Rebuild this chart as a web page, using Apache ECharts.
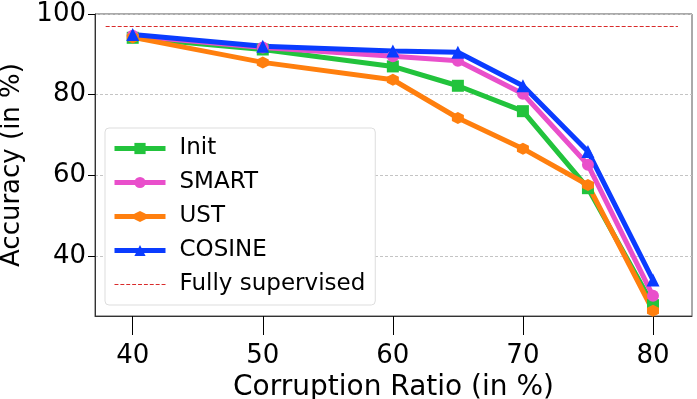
<!DOCTYPE html>
<html>
<head>
<meta charset="utf-8">
<script src="https://cdn.jsdelivr.net/npm/echarts@6/dist/echarts.min.js"></script>
<style>
  html, body { margin: 0; padding: 0; background: #fff; }
  #main { width: 697px; height: 399px; }
</style>
</head>
<body>
<div id="main"></div>
<script>
var ratios = [40, 50, 60, 65, 70, 75, 80];
var initAcc   = [94.1, 91.2, 87.0, 82.2, 75.9, 56.8, 27.8];
var smartAcc  = [94.6, 91.7, 89.5, 88.4, 80.2, 62.6, 30.1];
var ustAcc    = [94.2, 88.0, 83.7, 74.2, 66.6, 57.6, 26.4];
var cosineAcc = [94.9, 92.0, 90.8, 90.5, 82.2, 65.9, 34.0];
var fullySupervised = 96.9;
var xTicks = [40, 50, 60, 70, 80];
var yTicks = [40, 60, 80, 100];

var myChart = echarts.init(document.getElementById('main'));
var font = 'DejaVu Sans';
var red = '#d92b2b';
var hexagon = 'path://M0,-1 L0.866,-0.5 L0.866,0.5 L0,1 L-0.866,0.5 L-0.866,-0.5 Z';
// dashed legend icon for the reference line
var dashIcon = 'path://M0,0h4v1.2h-4z M6,0h4v1.2h-4z M12,0h4v1.2h-4z M18,0h4v1.2h-4z M24,0h4v1.2h-4z'
  + ' M30,0h4v1.2h-4z M36,0h4v1.2h-4z M42,0h4v1.2h-4z M48,0h4v1.2h-4z';

function pairs(ys) {
  return ratios.map(function (x, i) { return [x, ys[i]]; });
}

function lineSeries(name, ys, color, symbol, size) {
  return {
    name: name,
    type: 'line',
    data: pairs(ys),
    symbol: symbol,
    symbolSize: size,
    lineStyle: { color: color, width: 5 },
    itemStyle: { color: color },
    emphasis: { disabled: true }
  };
}

var option = {
  animation: false,
  grid: {
    left: 95, right: 5, top: 14, bottom: 83,
    outerBoundsMode: 'none',
    show: true, borderColor: '#555', borderWidth: 1
  },
  xAxis: {
    type: 'value',
    min: 37.1,
    max: 83,
    name: 'Corruption Ratio (in %)',
    nameLocation: 'middle',
    nameGap: 52,
    nameTextStyle: { fontFamily: font, fontSize: 28, color: '#000' },
    axisLine: { show: true, lineStyle: { color: '#333', width: 1 } },
    axisTick: { show: true, customValues: xTicks, length: 19, lineStyle: { color: '#000' } },
    axisLabel: { customValues: xTicks, fontFamily: font, fontSize: 26, color: '#000', margin: 27 },
    splitLine: { show: false }
  },
  yAxis: {
    type: 'value',
    min: 25.1,
    max: 100,
    name: 'Accuracy (in %)',
    nameLocation: 'middle',
    nameGap: 55,
    nameTextStyle: { fontFamily: font, fontSize: 26, color: '#000' },
    axisLine: { show: true, lineStyle: { color: '#333', width: 1 } },
    axisTick: { show: true, customValues: yTicks, length: 7, lineStyle: { color: '#000' } },
    axisLabel: { customValues: yTicks, fontFamily: font, fontSize: 26, color: '#000', margin: 9 },
    splitLine: { show: true, lineStyle: { color: '#c4c4c4', type: [3, 2], width: 1 } }
  },
  legend: {
    orient: 'vertical',
    left: 105,
    top: 128,
    itemWidth: 51,
    itemHeight: 14,
    itemGap: 11,
    padding: [9, 10, 9, 7],
    backgroundColor: '#fff',
    borderColor: '#ddd',
    borderWidth: 1,
    borderRadius: 4,
    lineStyle: { width: 'inherit' },
    textStyle: { fontFamily: font, fontSize: 23, color: '#000', padding: [0, 0, 0, 9] },
    data: ['Init', 'SMART', 'UST', 'COSINE',
      { name: 'Fully supervised', icon: dashIcon, itemStyle: { color: red, borderWidth: 0 } }]
  },
  series: [
    lineSeries('Init', initAcc, '#22c33c', 'rect', 12),
    lineSeries('SMART', smartAcc, '#e94fcb', 'circle', 12),
    lineSeries('UST', ustAcc, '#ff7f0e', hexagon, 12),
    lineSeries('COSINE', cosineAcc, '#0a3cff', 'triangle', 13),
    {
      name: 'Fully supervised',
      type: 'line',
      data: [],
      symbol: 'none',
      lineStyle: { color: red, width: 1.2, type: [4, 2] },
      itemStyle: { color: red },
      markLine: {
        silent: true,
        symbol: 'none',
        label: { show: false },
        lineStyle: { color: red, width: 1.2, type: [4, 2] },
        data: [[{ coord: [37.92, fullySupervised] }, { coord: [81.92, fullySupervised] }]]
      }
    }
  ]
};

myChart.setOption(option);
</script>
</body>
</html>
